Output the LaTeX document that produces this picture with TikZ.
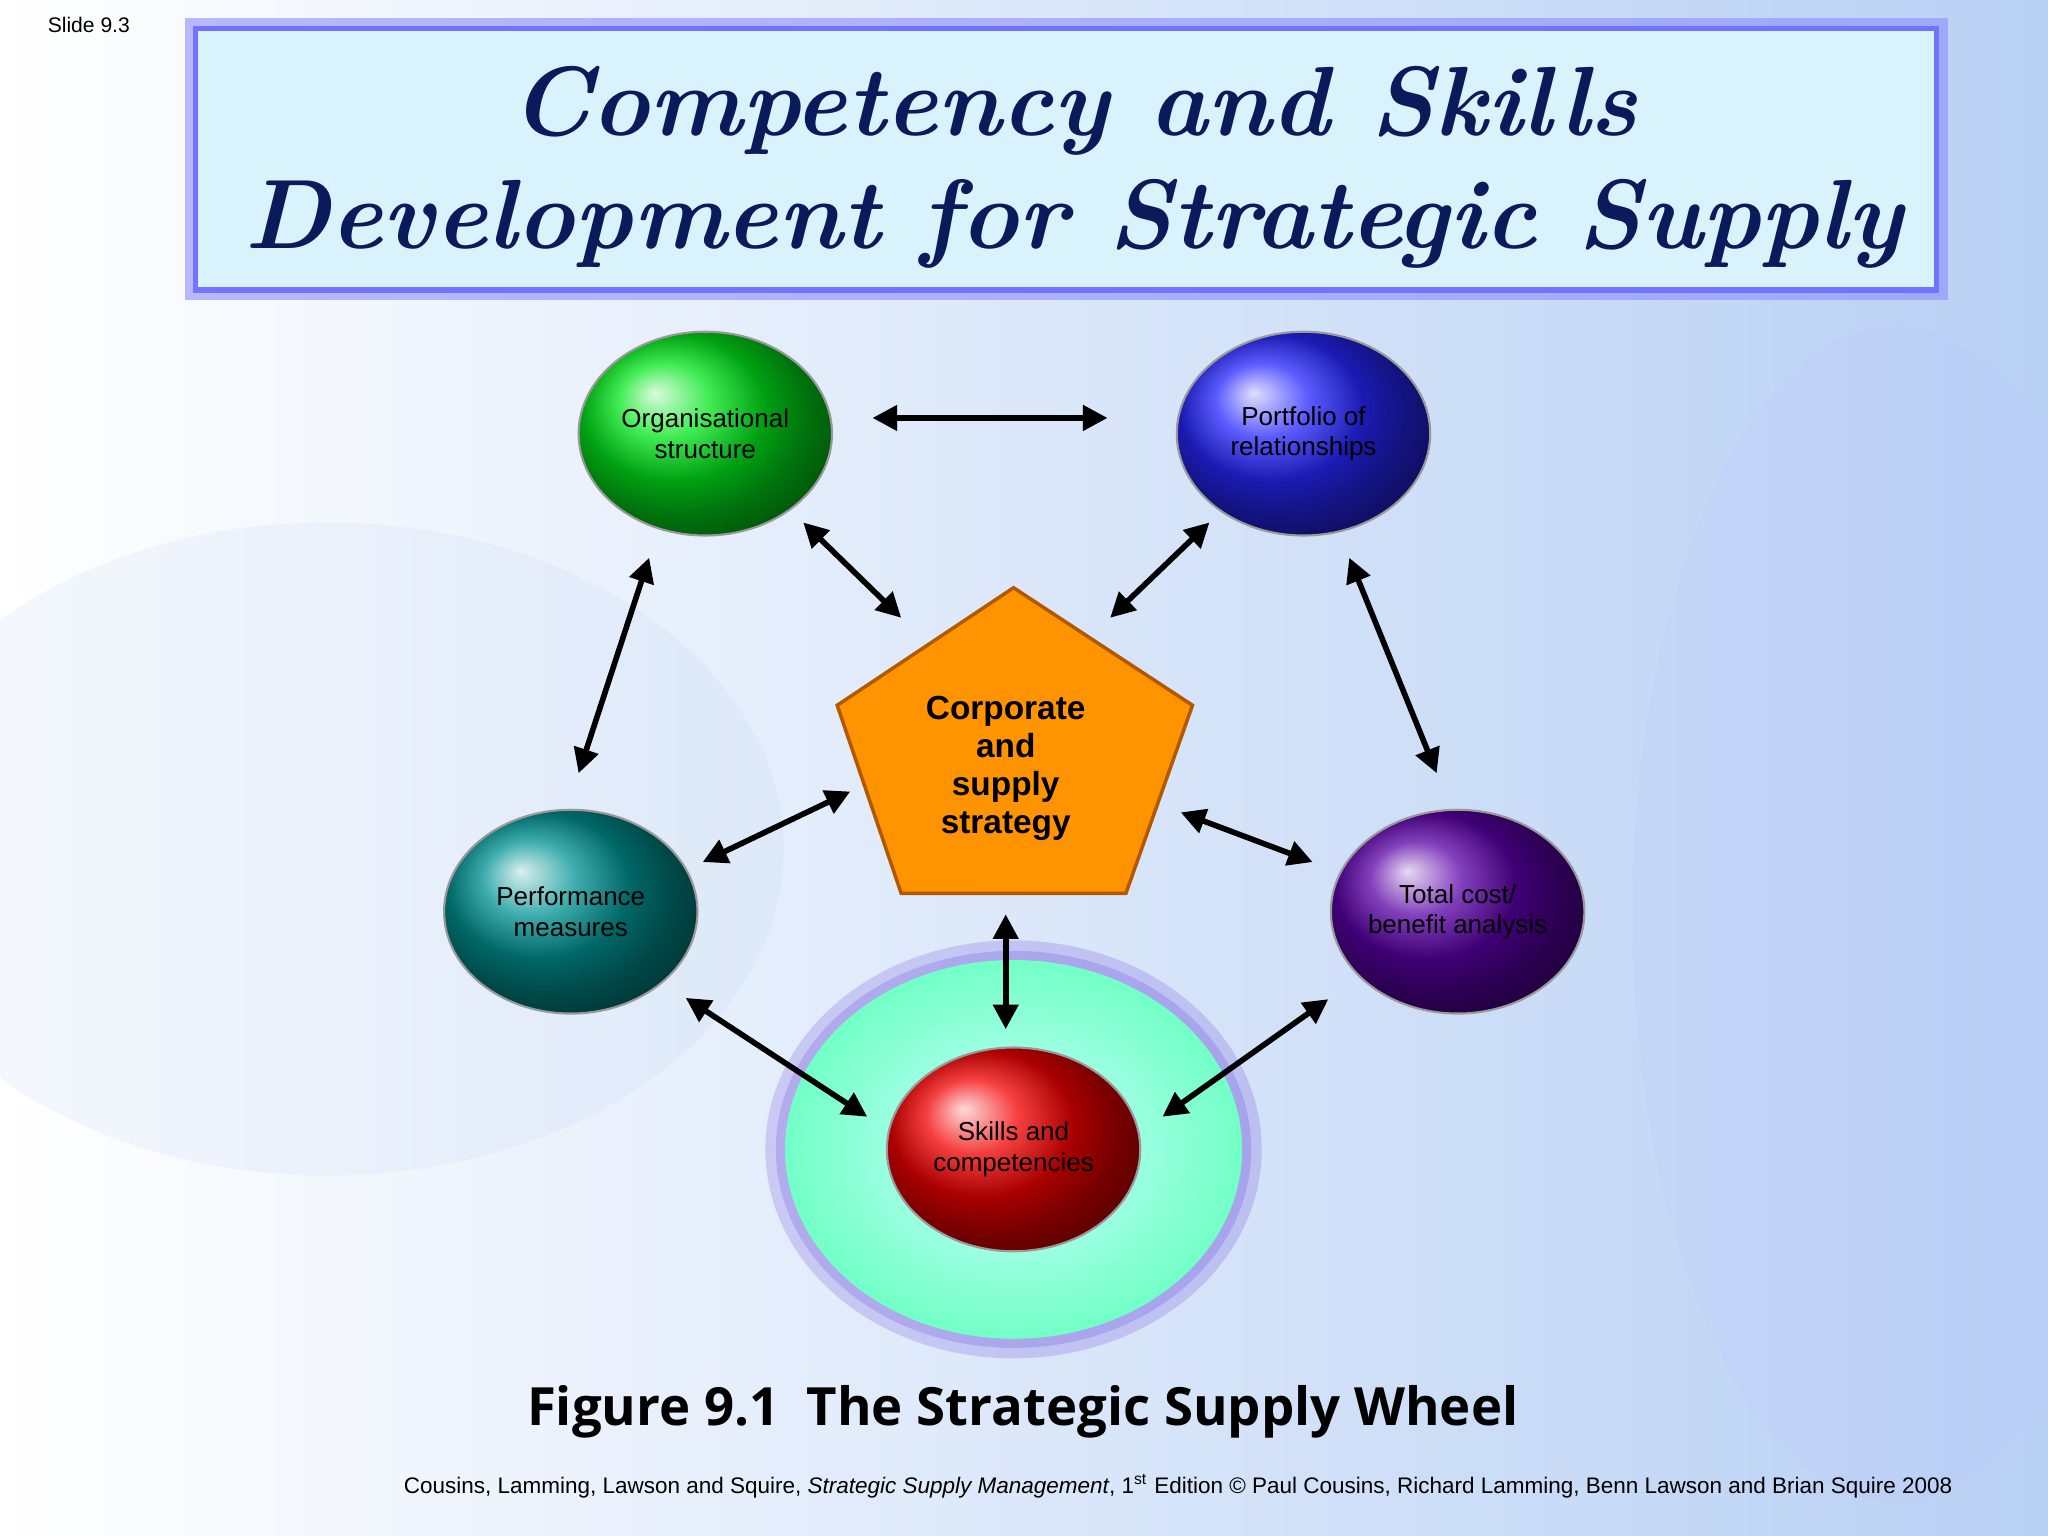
\documentclass[tikz,border=0pt]{standalone}
\usepackage{fontspec}
\setmainfont{Liberation Sans}
\newfontfamily\capfont{Open Sans}
\newfontfamily\titfont{Latin Modern Roman}
\usetikzlibrary{arrows.meta,shapes.geometric}
\definecolor{navy}{HTML}{0A1A5A}
\definecolor{bg}{HTML}{B8D0F4}
\tikzset{
 bub/.style={ellipse,inner sep=0pt,minimum width=194*0.01306cm,minimum height=156*0.01306cm,draw=black!40,line width=0.6pt,align=center,font=\fontsize{7.4}{8.6}\selectfont,text=black},
 dbl/.style={{Triangle[length=7pt,width=7pt]}-{Triangle[length=7pt,width=7pt]},line width=1.6pt,black}
}
\begin{document}
\begin{tikzpicture}[x=0.01306cm,y=-0.01306cm]
\useasboundingbox (0,0) rectangle (1568,1176);
\shade[left color=white,right color=bg] (0,0) rectangle (1568,1176);
\fill[bg,opacity=0.15] (250,650) ellipse (350 and 250);
\fill[blue!25,opacity=0.15] (1450,700) ellipse (200 and 450);
\node[font=\fontsize{6}{7}\selectfont] (slide) at (68,19) {Slide 9.3};
% title
\draw[draw=blue!45!white,line width=6pt,opacity=0.6] (150,22) rectangle (1483,222);
\node[draw=blue!55!white,line width=1.5pt,fill=cyan!15!white,minimum width=1333*0.01306cm,minimum height=200*0.01306cm] (tbox) at (816,122) {};
\node[font=\fontsize{28}{32}\selectfont\titfont\bfseries\itshape,text=navy,align=center] (title) at (822,128) {Competency and Skills\\Development for Strategic Supply};
% halo
\fill[blue!60!violet,opacity=0.15] (776,880) ellipse (190 and 160);
\fill[blue!60!violet,opacity=0.15] (776,880) ellipse (182 and 152);
\shade[inner color=cyan!20!white,outer color=green!40!cyan!55!white] (776,880) ellipse (175 and 145);
% nodes
\node[bub,ball color=green!80!teal] (org) at (540,332) {Organisational\\structure};
\node[bub,ball color=blue!85!white] (port) at (998,332) {Portfolio of\\relationships};
\node[bub,ball color=teal!85!cyan] (perf) at (437,698) {Performance\\measures};
\node[bub,ball color=violet!70!blue] (tot) at (1116,698) {Total cost/\\benefit analysis};
\node[bub,ball color=red!95!black] (skill) at (776,880) {Skills and\\competencies};
\filldraw[fill=orange!85!yellow,draw=orange!70!black,line width=1pt] (776,450) -- (913,540) -- (862,684) -- (690,684) -- (641,540) -- cycle;
\node[font=\fontsize{9.5}{10.8}\selectfont\bfseries,align=center] (corp) at (770,588) {Corporate\\and\\supply\\strategy};
% arrows
\foreach \n/\a/\b/\c/\d in {a/668/320/848/320, b/615/400/690/473, c/926/400/850/473, d/497/427/443/592, e/1033/427/1100/592, f/651/606/538/660, g/904/622/1005/660, h/770/700/770/788, i/525/764/664/855, j/1017/765/890/855}{
 \coordinate (\n1) at (\a,\b); \coordinate (\n2) at (\c,\d);
 \draw[dbl] (\n1) -- (\n2);
}
\node[font=\capfont\fontsize{15}{17}\selectfont\bfseries] (cap) at (783,1081) {Figure 9.1\ \ The Strategic Supply Wheel};
\node[font=\fontsize{6.4}{7}\selectfont] (foot) at (902,1138) {Cousins, Lamming, Lawson and Squire, \textit{Strategic Supply Management}, 1\textsuperscript{st} Edition \textcopyright{} Paul Cousins, Richard Lamming, Benn Lawson and Brian Squire 2008};
\end{tikzpicture}
\end{document}
